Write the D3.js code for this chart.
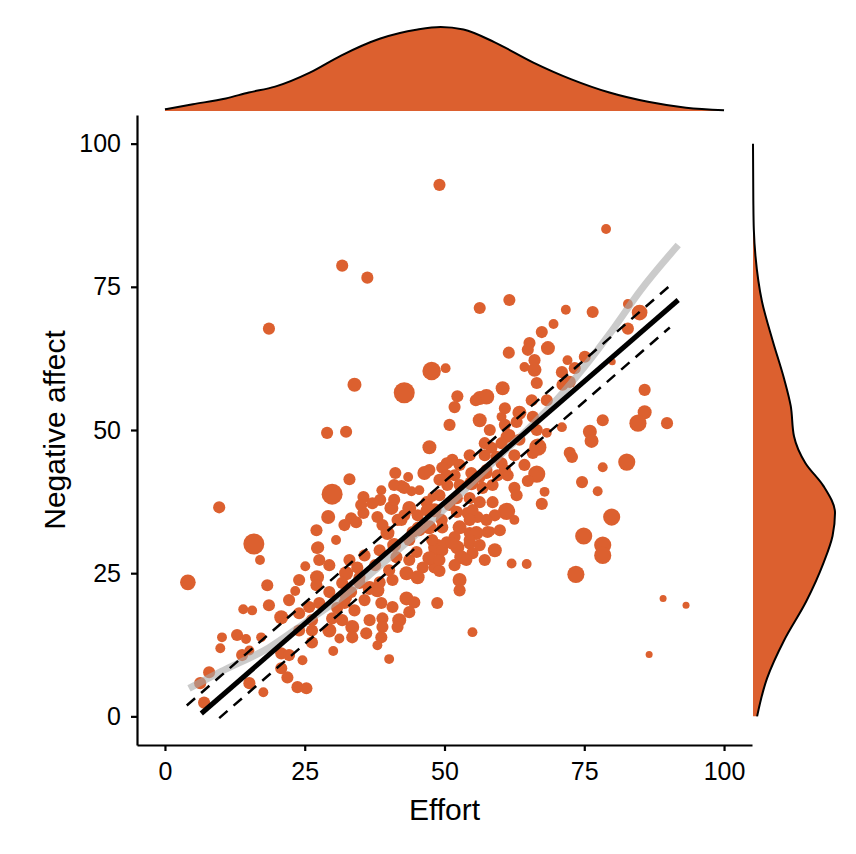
<!DOCTYPE html>
<html><head><meta charset="utf-8">
<script src="https://cdn.jsdelivr.net/npm/d3@7"></script>
<style>body{margin:0;background:#fff}svg{display:block}</style>
</head><body><svg id="c" width="856" height="854"></svg>
<script>
// ---- data ----
const effort = [
49.1,31.7,36.2,78.9,18.6,56.3,61.6,71.7,76.5,82.8,
84.9,82.8,69.5,67.4,65.2,64.9,68.5,61.5,66.1,47.7,
50.2,64.3,66.1,66.5,72.0,73.3,75.1,71.0,72.4,71.1,
60.4,52.3,56.3,57.5,55.6,51.8,60.8,60.2,56.3,50.9,
63.4,65.6,68.3,62.9,65.8,66.5,68.3,71.0,76.0,76.3,
47.3,57.2,58.4,61.1,66.7,65.8,72.4,72.8,60.2,51.4,
50.4,52.7,47.3,66.5,80.0,85.8,85.8,84.6,89.8,78.3,
82.6,78.3,74.6,77.4,79.9,74.9,78.3,78.3,73.5,89.1,
93.2,86.6,33.9,42.8,64.9,67.4,67.9,
29.0,32.4,33.0,29.9,35.5,38.7,41.2,43.5,42.3,46.4,
49.6,45.5,44.1,38.5,40.5,43.7,46.8,47.8,35.5,33.3,
38.0,29.2,32.1,34.2,27.1,30.6,27.2,25.1,38.9,39.8,
42.3,45.2,46.8,47.3,44.3,45.0,48.6,48.2,49.6,49.1,
32.4,34.4,34.8,
50.4,51.8,54.8,57.5,59.5,61.3,41.0,42.8,50.5,54.8,
56.8,58.6,62.5,37.1,52.2,54.5,56.3,58.6,61.1,62.9,
62.5,41.6,45.2,49.5,52.2,54.1,55.9,57.7,54.5,52.7,
49.6,47.8,50.4,52.3,54.5,55.0,53.0,59.0,62.0,47.3,
46.1,43.7,41.4,43.2,45.2,40.7,38.4,36.6,34.8,33.3,
31.7,32.1,52.7,52.7,43.2,44.6,48.7,38.7,40.7,38.9,
41.9,43.7,36.0,38.9,38.7,41.6,38.0,55.0,
56.3,57.5,59.3,60.2,61.6,60.8,59.0,58.2,55.0,55.7,
54.5,51.8,51.3,53.9,64.7,
4.1,9.7,15.9,17.0,18.3,23.3,27.4,27.2,38.0,14.0,
15.6,20.8,24.0,25.8,26.3,29.4,31.7,33.5,33.5,31.2,
30.1,40.1,12.9,10.2,9.9,14.5,17.2,13.8,15.1,20.8,
22.2,24.6,20.8,21.9,23.7,25.3,15.1,17.6,7.9,6.3,
7.0,26.3,29.9,32.4,27.6,27.1,29.4,26.3,30.8,
42.8,48.2,50.9,49.1,52.7,54.5,57.5,59.9,56.3,49.1,
51.8,57.2,41.0,43.7,38.4,35.7,33.0,37.6,40.1,45.5,
41.0,35.1,54.5,57.2,62.5,64.3,63.4,58.1,60.8,49.1,
27.6,29.4,24.0,22.2,18.6,24.0,33.9,35.7,36.6
];
const negAffect = [
92.8,78.7,76.6,85.1,67.7,71.3,72.7,71.0,70.6,72.0,
70.5,67.7,68.5,67.1,65.2,64.0,64.3,63.5,62.2,60.3,
60.8,61.0,60.5,58.2,62.2,60.8,62.8,60.1,58.4,57.9,
57.3,55.9,55.6,55.8,55.2,54.0,53.8,52.3,51.7,50.9,
53.0,55.2,55.2,51.4,52.3,50.0,49.5,50.5,49.7,48.1,
47.0,47.7,46.9,48.8,47.0,46.0,46.0,45.3,44.2,44.8,
44.2,43.9,43.0,42.3,61.9,57.0,53.1,51.2,51.2,51.7,
44.4,43.5,40.9,39.3,34.8,31.5,29.9,28.1,24.8,20.6,
19.4,10.8,57.9,56.5,41.1,37.1,39.2,
49.5,49.7,41.4,38.8,38.3,39.5,42.5,41.8,40.2,42.5,
43.4,39.5,39.3,37.8,36.4,36.4,37.4,38.3,35.5,34.6,
34.8,34.8,33.4,33.9,32.5,30.8,29.4,26.2,33.4,32.0,
34.3,35.1,36.0,33.0,32.2,28.7,29.5,26.0,29.0,25.4,
25.0,26.0,24.3,
42.1,42.1,42.5,42.5,42.1,42.1,40.4,39.9,40.4,40.7,
39.9,40.4,39.9,37.2,38.1,38.1,37.4,37.4,35.8,38.6,
34.3,34.3,32.9,34.3,35.7,35.5,34.8,32.2,32.0,33.0,
33.0,30.8,30.4,29.5,30.2,28.5,27.8,29.0,26.7,27.6,
26.0,27.3,27.8,25.0,24.3,23.8,23.4,22.4,23.3,21.7,
23.3,19.8,23.8,22.0,20.6,19.9,19.8,19.8,19.1,17.1,
16.8,18.2,14.5,15.6,13.8,15.6,12.4,14.7,
41.8,43.0,45.3,47.7,49.1,43.0,35.1,32.3,36.0,32.0,
30.8,31.3,30.2,27.3,26.6,
23.4,36.5,30.1,27.3,22.9,21.9,29.5,24.3,22.0,18.7,
18.5,17.3,18.0,19.1,15.0,15.0,16.8,15.6,13.8,13.6,
11.4,10.0,14.2,13.8,11.9,13.5,13.8,10.7,11.5,11.0,
10.7,9.8,8.4,6.8,5.1,4.9,5.8,4.2,7.7,5.8,
2.4,12.9,17.1,20.8,19.8,22.9,21.7,16.8,18.9,
35.1,36.0,36.9,38.6,40.4,34.3,34.3,32.5,29.9,27.3,
26.4,27.3,29.9,30.8,29.0,28.1,27.3,26.4,25.5,32.5,
37.8,36.9,45.6,45.6,45.6,43.9,48.3,50.0,50.9,41.3,
27.3,26.4,23.8,20.3,19.4,15.0,18.5,20.3,16.8
];
const weight = [
3,3,3,2,3,3,3,2,3,2,
5,3,2,3,3,3,4,3,3,7,
2,2,4,3,2,3,3,3,3,3,
4,3,4,5,3,3,3,2,4,3,
4,3,3,3,3,3,2,2,4,4,
4,3,3,3,6,3,3,3,3,3,
3,3,3,6,1,3,4,6,3,3,
6,2,3,2,6,6,6,6,6,1,
1,1,4,9,3,3,2,
3,3,3,9,3,2,3,2,3,4,
3,2,2,3,4,4,3,2,3,3,
3,4,3,3,3,2,3,2,3,4,
3,3,3,4,3,3,6,3,3,3,
4,3,3,
3,3,3,3,3,3,3,3,3,4,
3,3,3,3,3,3,3,3,6,3,
2,3,3,3,3,3,3,3,3,4,
3,3,3,4,3,3,4,4,2,4,
3,3,3,4,4,3,3,4,3,3,
3,3,4,3,4,3,3,3,3,3,
4,3,3,3,3,3,2,2,
3,3,3,3,3,3,3,2,3,4,
3,3,3,3,2,
5,3,9,2,3,2,3,4,4,2,
2,4,3,3,3,4,3,4,3,2,
2,2,3,2,2,2,2,3,2,3,
3,2,3,3,3,3,3,2,3,3,
3,3,3,3,3,3,3,3,3,
3,4,3,3,3,3,3,3,3,3,
3,3,4,3,3,3,3,3,3,3,
3,3,3,3,3,3,3,3,3,3,
3,3,3,3,3,3,3,3,3
];
const xTicks = [0, 25, 50, 75, 100];
const yTicks = [0, 25, 50, 75, 100];
// fitted linear line and its dashed band
const fitX = [6.5, 91.8], fitY = [0.5, 72.7];
const bandUpX = [3.9, 90.9], bandUpY = [1.9, 75.7];
const bandLoX = [9.7, 90.3], bandLoY = [-0.3, 67.9];
// loess curve (grey)
const loessX = [4.3, 10, 18.6, 25, 33, 40, 50, 60, 65, 70, 75, 80, 85, 91.8];
const loessY = [4.9, 7.8, 12.0, 16.3, 21.8, 27.6, 36.2, 45.6, 50.2, 55.2, 61.0, 67.4, 74.3, 82.3];
// marginal densities (relative heights)
const effortDensX = [0, 5, 10.9, 15, 19.7, 26, 31.5, 38.4, 45.2, 49.3, 53.4, 58.9, 65.8, 72.6, 79.5, 86.4, 93.2, 100];
const effortDens  = [0.02, 0.08, 0.15, 0.22, 0.29, 0.46, 0.66, 0.86, 0.97, 1.0, 0.97, 0.82, 0.58, 0.38, 0.22, 0.11, 0.04, 0.01];
const affectDensY = [0, 6.6, 13.3, 20.1, 26.8, 31.5, 35.5, 40.2, 44.2, 48.9, 54.2, 58.9, 65.6, 72.4, 80.4, 85, 90, 100];
const affectDens  = [0.05, 0.17, 0.38, 0.65, 0.86, 0.97, 1.0, 0.86, 0.64, 0.50, 0.46, 0.38, 0.24, 0.11, 0.03, 0.01, 0.004, 0.0];

// ---- drawing ----
const ORANGE = "#DC602F";
const FONT = "'Liberation Sans', Arial, Helvetica, sans-serif";
const svg = d3.select("#c");
const x = d3.scaleLinear().domain([-5, 105]).range([137, 752]);
const y = d3.scaleLinear().domain([-5, 105]).range([745, 115]);
const r = d3.scaleSqrt().domain([0, 9]).range([0, 10.5]);
const topY = d3.scaleLinear().domain([0, 1]).range([111, 27]);
const rightX = d3.scaleLinear().domain([0, 1]).range([753, 835]);

// top density
const topData = effortDensX.map((v, i) => [v, effortDens[i]]);
svg.append("path").datum(topData)
  .attr("d", d3.area().x(d => x(d[0])).y0(topY(0)).y1(d => topY(d[1])).curve(d3.curveMonotoneX))
  .attr("fill", ORANGE);
svg.append("path").datum(topData)
  .attr("d", d3.line().x(d => x(d[0])).y(d => topY(d[1])).curve(d3.curveMonotoneX))
  .attr("fill", "none").attr("stroke", "#000").attr("stroke-width", 2);

// right density
const rightData = affectDensY.map((v, i) => [v, affectDens[i]]);
svg.append("path").datum(rightData)
  .attr("d", d3.area().y(d => y(d[0])).x0(rightX(0)).x1(d => rightX(d[1])).curve(d3.curveMonotoneY))
  .attr("fill", ORANGE);
svg.append("path").datum(rightData)
  .attr("d", d3.line().y(d => y(d[0])).x(d => rightX(d[1])).curve(d3.curveMonotoneY))
  .attr("fill", "none").attr("stroke", "#000").attr("stroke-width", 2);

// points
const pts = effort.map((v, i) => ({x: v, y: negAffect[i], w: weight[i]}));
svg.append("g").selectAll("circle").data(pts).join("circle")
  .attr("cx", d => x(d.x)).attr("cy", d => y(d.y)).attr("r", d => r(d.w))
  .attr("fill", ORANGE);

// loess
svg.append("path").datum(loessX.map((v, i) => [v, loessY[i]]))
  .attr("d", d3.line().x(d => x(d[0])).y(d => y(d[1])).curve(d3.curveMonotoneX))
  .attr("fill", "none").attr("stroke", "#a8a8a8").attr("stroke-opacity", 0.6)
  .attr("stroke-width", 7).attr("stroke-linecap", "butt");
const straight = d3.line().x(d => x(d[0])).y(d => y(d[1]));
[[bandUpX, bandUpY], [bandLoX, bandLoY]].forEach(([bx, by]) => {
  svg.append("path").datum(bx.map((v, i) => [v, by[i]]))
    .attr("d", straight).attr("fill", "none").attr("stroke", "#000")
    .attr("stroke-width", 2.5).attr("stroke-dasharray", "11,8");
});
svg.append("path").datum(fitX.map((v, i) => [v, fitY[i]]))
  .attr("d", straight).attr("fill", "none").attr("stroke", "#000").attr("stroke-width", 5);

// axes
const xa = svg.append("g").attr("transform", "translate(0,745)")
  .call(d3.axisBottom(x).tickValues(xTicks).tickSize(6).tickSizeOuter(0).tickPadding(11));
const ya = svg.append("g").attr("transform", "translate(137,0)")
  .call(d3.axisLeft(y).tickValues(yTicks).tickSize(6).tickSizeOuter(0).tickPadding(10));
[xa, ya].forEach(a => {
  a.select(".domain").attr("stroke", "#000").attr("stroke-width", 2.2);
  a.selectAll(".tick line").attr("stroke", "#000").attr("stroke-width", 2.2);
  a.selectAll(".tick text").attr("fill", "#000").style("font-family", FONT).style("font-size", "25px");
});

svg.append("text").attr("x", 444.5).attr("y", 820).attr("text-anchor", "middle")
  .style("font-family", FONT).style("font-size", "30px").text("Effort");
svg.append("text").attr("transform", "translate(65,430) rotate(-90)").attr("text-anchor", "middle")
  .style("font-family", FONT).style("font-size", "30px").text("Negative affect");
</script></body></html>
